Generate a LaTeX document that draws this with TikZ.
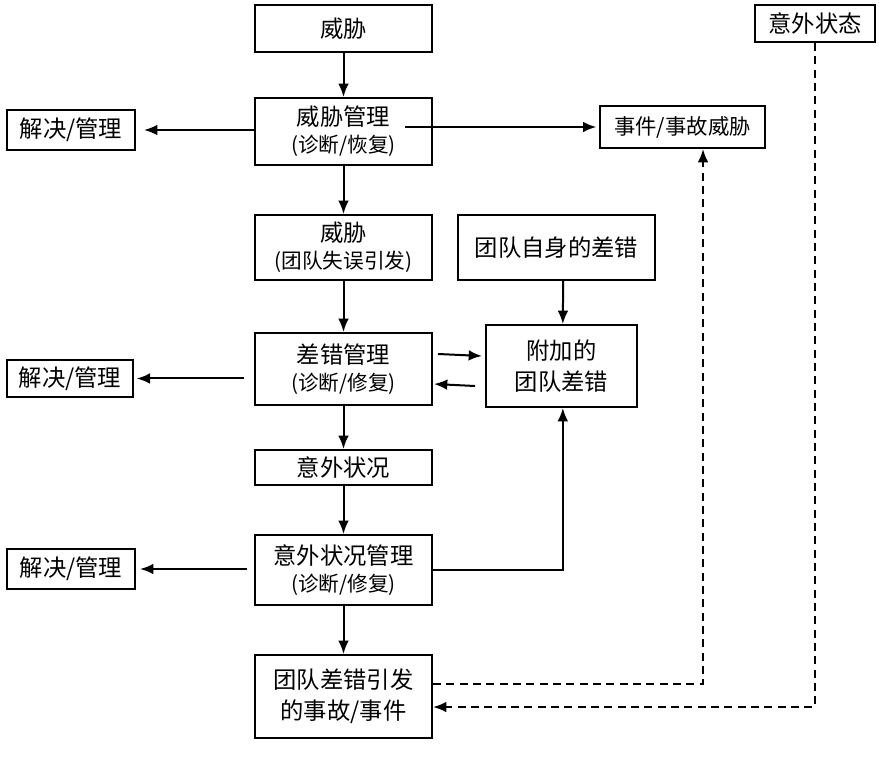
\documentclass[tikz,border=0pt]{standalone}
\usepackage{fontspec}
\setmainfont{Noto Sans CJK SC}
\usetikzlibrary{arrows.meta}
\newcommand{\subline}{\fontsize{15.5}{18}\selectfont}

\begin{document}
\begin{tikzpicture}[x=0.75pt,y=-0.75pt,>={Latex[length=10pt,width=8pt]},
    box/.style={draw,line width=1.5pt,inner sep=0pt,align=center,
        font=\fontsize{17.5}{23}\selectfont,minimum width=132.75pt},
    sidebox/.style={box,minimum width=96pt,minimum height=30pt},
    flow/.style={->,line width=1.5pt},
    hint/.style={->,line width=1.5pt,dash pattern=on 6pt off 4pt}]
    \useasboundingbox (0,0) rectangle (879,766);

    % Main column: threat, error and undesired state handling.
    \node[box,minimum height=35.25pt] (threat) at (343.5,28.5) {威胁};
    \node[box,minimum height=50.25pt] (tmgmt) at (343.5,131.5)
        {威胁管理\\[-3pt]{\subline(诊断/恢复)}};
    \node[box,minimum height=48.75pt] (tthreat) at (343.5,247.5)
        {威胁\\[-3pt]{\subline(团队失误引发)}};
    \node[box,minimum height=54pt] (emgmt) at (343.5,369)
        {差错管理\\[-3pt]{\subline(诊断/修复)}};
    \node[box,minimum height=26.25pt] (surp) at (343.5,467.5) {意外状况};
    \node[box,minimum height=52.5pt] (smgmt) at (343.5,570)
        {意外状况管理\\[-3pt]{\subline(诊断/修复)}};
    \node[box,minimum height=62.25pt] (outcome) at (343.5,696.5)
        {团队差错引发\\的事故/事件};

    % Side boxes on the left.
    \node[sidebox] (res1) at (71,130) {解决/管理};
    \node[sidebox,minimum width=94.5pt,minimum height=27.75pt] (res2) at (70,378.5) {解决/管理};
    \node[sidebox] (res3) at (71,569) {解决/管理};

    % Boxes on the right.
    \node[box,minimum width=123.75pt,minimum height=31.5pt,
        font=\fontsize{16}{20}\selectfont] (inc) at (682.5,127) {事件/事故威胁};
    \node[box,minimum width=147.75pt,minimum height=48.75pt] (own) at (556.5,247.5) {团队自身的差错};
    \node[box,minimum width=113.25pt,minimum height=61.5pt] (extra) at (561.5,366)
        {附加的\\团队差错};
    \node[box,minimum width=90pt,minimum height=27.75pt] (state) at (815,23.5) {意外状态};

    \coordinate (tm-out) at (405,127);
    \coordinate (em-out) at (438,354);
    \coordinate (ex-in) at (482,356);
    \coordinate (ex-out) at (475,386);
    \coordinate (em-in) at (434,384);

    % Solid connectors.
    \draw[flow] (threat) -- (tmgmt);
    \draw[flow,shorten >=6pt] (tmgmt.west |- res1) -- (res1.east);
    \draw[flow,shorten >=2pt] (tm-out) -- (tm-out -| inc.west);
    \draw[flow] (tmgmt) -- (tthreat);
    \draw[flow] (tthreat) -- (emgmt);
    \draw[flow] ([xshift=5pt]own.south) -- ([xshift=1pt]extra.north);
    \draw[flow] (em-out) -- (ex-in);
    \draw[flow] (ex-out) -- (em-in);
    \draw[flow,shorten <=7.5pt,shorten >=2pt] (emgmt.west |- res2) -- (res2.east);
    \draw[flow] (emgmt) -- (surp);
    \draw[flow] (surp) -- (smgmt);
    \draw[flow,shorten <=5pt,shorten >=3pt] (smgmt.west |- res3) -- (res3.east);
    \draw[flow] (smgmt.east) -| ([xshift=1pt]extra.south);
    \draw[flow] (smgmt) -- (outcome);

    % Dashed connectors.
    \draw[hint] ([yshift=9.4pt]outcome.east) -| ([xshift=15.4pt]inc.south);
    \draw[hint] (state.south) |- ([yshift=-7.9pt]outcome.east);
\end{tikzpicture}
\end{document}
